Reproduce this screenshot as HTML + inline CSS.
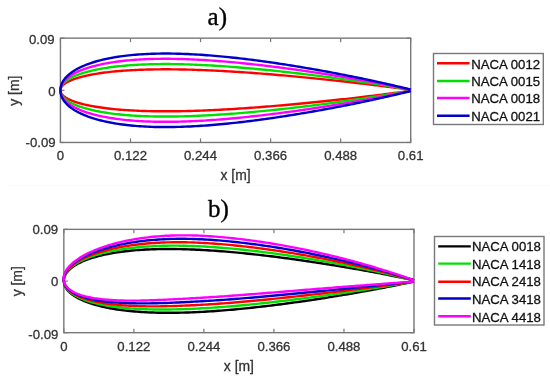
<!DOCTYPE html>
<html><head><meta charset="utf-8"><style>
html,body{margin:0;padding:0;background:#fff;}
body{width:550px;height:380px;overflow:hidden;}
svg{display:block;}
.tk{font-family:"Liberation Sans",Arial,sans-serif;font-size:13.2px;fill:#333;stroke:#333;stroke-width:0.3px;}
.bx{stroke:#787878;stroke-width:1.4px;}
.tkl{stroke:#787878;stroke-width:1.2px;}
.lg{font-family:"Liberation Sans",Arial,sans-serif;font-size:13.2px;fill:#111;stroke:#111;stroke-width:0.3px;}
.al{font-family:"Liberation Sans",Arial,sans-serif;font-size:13.9px;fill:#333;stroke:#333;stroke-width:0.3px;}
.tt{font-family:"Liberation Serif","Times New Roman",serif;font-size:25px;fill:#000;stroke:#000;stroke-width:0.35px;}
</style></head><body>
<svg width="550" height="380" viewBox="0 0 550 380">
<line x1="8" y1="185.5" x2="550" y2="185.5" stroke="#f9f9f9" stroke-width="1"/>
<rect x="60.43" y="38.15" width="350.27" height="104.32" fill="none" class="bx"/>
<line x1="60.43" y1="142.47" x2="60.43" y2="138.47" class="tkl"/>
<line x1="60.43" y1="38.15" x2="60.43" y2="42.15" class="tkl"/>
<line x1="130.48" y1="142.47" x2="130.48" y2="138.47" class="tkl"/>
<line x1="130.48" y1="38.15" x2="130.48" y2="42.15" class="tkl"/>
<line x1="200.54" y1="142.47" x2="200.54" y2="138.47" class="tkl"/>
<line x1="200.54" y1="38.15" x2="200.54" y2="42.15" class="tkl"/>
<line x1="270.59" y1="142.47" x2="270.59" y2="138.47" class="tkl"/>
<line x1="270.59" y1="38.15" x2="270.59" y2="42.15" class="tkl"/>
<line x1="340.65" y1="142.47" x2="340.65" y2="138.47" class="tkl"/>
<line x1="340.65" y1="38.15" x2="340.65" y2="42.15" class="tkl"/>
<line x1="410.7" y1="142.47" x2="410.7" y2="138.47" class="tkl"/>
<line x1="410.7" y1="38.15" x2="410.7" y2="42.15" class="tkl"/>
<line x1="60.43" y1="38.15" x2="64.43" y2="38.15" class="tkl"/>
<line x1="410.7" y1="38.15" x2="406.7" y2="38.15" class="tkl"/>
<line x1="60.43" y1="90.31" x2="64.43" y2="90.31" class="tkl"/>
<line x1="410.7" y1="90.31" x2="406.7" y2="90.31" class="tkl"/>
<line x1="60.43" y1="142.47" x2="64.43" y2="142.47" class="tkl"/>
<line x1="410.7" y1="142.47" x2="406.7" y2="142.47" class="tkl"/>
<text x="60.43" y="160.3" text-anchor="middle" class="tk">0</text>
<text x="130.48" y="160.3" text-anchor="middle" class="tk">0.122</text>
<text x="200.54" y="160.3" text-anchor="middle" class="tk">0.244</text>
<text x="270.59" y="160.3" text-anchor="middle" class="tk">0.366</text>
<text x="340.65" y="160.3" text-anchor="middle" class="tk">0.488</text>
<text x="410.7" y="160.3" text-anchor="middle" class="tk">0.61</text>
<text x="54.6" y="44.2" text-anchor="end" class="tk">0.09</text>
<text x="55.6" y="95.6" text-anchor="end" class="tk">0</text>
<text x="55.6" y="147" text-anchor="end" class="tk">-0.09</text>
<text x="235.56" y="180" text-anchor="middle" class="al">x [m]</text>
<text transform="translate(18.6,90.65) rotate(-90)" text-anchor="middle" class="al">y [m]</text>
<text x="207.6" y="25" class="tt">a)</text>
<rect x="63.84" y="229.36" width="350.16" height="103.32" fill="none" class="bx"/>
<line x1="63.84" y1="332.68" x2="63.84" y2="328.68" class="tkl"/>
<line x1="63.84" y1="229.36" x2="63.84" y2="233.36" class="tkl"/>
<line x1="133.87" y1="332.68" x2="133.87" y2="328.68" class="tkl"/>
<line x1="133.87" y1="229.36" x2="133.87" y2="233.36" class="tkl"/>
<line x1="203.9" y1="332.68" x2="203.9" y2="328.68" class="tkl"/>
<line x1="203.9" y1="229.36" x2="203.9" y2="233.36" class="tkl"/>
<line x1="273.94" y1="332.68" x2="273.94" y2="328.68" class="tkl"/>
<line x1="273.94" y1="229.36" x2="273.94" y2="233.36" class="tkl"/>
<line x1="343.97" y1="332.68" x2="343.97" y2="328.68" class="tkl"/>
<line x1="343.97" y1="229.36" x2="343.97" y2="233.36" class="tkl"/>
<line x1="414" y1="332.68" x2="414" y2="328.68" class="tkl"/>
<line x1="414" y1="229.36" x2="414" y2="233.36" class="tkl"/>
<line x1="63.84" y1="229.36" x2="67.84" y2="229.36" class="tkl"/>
<line x1="414" y1="229.36" x2="410" y2="229.36" class="tkl"/>
<line x1="63.84" y1="281.02" x2="67.84" y2="281.02" class="tkl"/>
<line x1="414" y1="281.02" x2="410" y2="281.02" class="tkl"/>
<line x1="63.84" y1="332.68" x2="67.84" y2="332.68" class="tkl"/>
<line x1="414" y1="332.68" x2="410" y2="332.68" class="tkl"/>
<text x="63.84" y="350.6" text-anchor="middle" class="tk">0</text>
<text x="133.87" y="350.6" text-anchor="middle" class="tk">0.122</text>
<text x="203.9" y="350.6" text-anchor="middle" class="tk">0.244</text>
<text x="273.94" y="350.6" text-anchor="middle" class="tk">0.366</text>
<text x="343.97" y="350.6" text-anchor="middle" class="tk">0.488</text>
<text x="414" y="350.6" text-anchor="middle" class="tk">0.61</text>
<text x="58.2" y="234.4" text-anchor="end" class="tk">0.09</text>
<text x="58.4" y="286.4" text-anchor="end" class="tk">0</text>
<text x="58.4" y="338.7" text-anchor="end" class="tk">-0.09</text>
<text x="238.92" y="370.8" text-anchor="middle" class="al">x [m]</text>
<text transform="translate(22.2,281.25) rotate(-90)" text-anchor="middle" class="al">y [m]</text>
<text x="207.9" y="216.8" class="tt">b)</text>
<g fill="none" stroke-width="2.4" stroke-linejoin="round">
<path d="M410.7,89.87 L410.68,89.87 L410.61,89.86 L410.5,89.84 L410.35,89.82 L410.15,89.79 L409.91,89.76 L409.63,89.72 L409.31,89.67 L408.94,89.62 L408.52,89.56 L408.07,89.5 L407.57,89.43 L407.02,89.36 L406.44,89.28 L405.81,89.19 L405.14,89.1 L404.43,89 L403.68,88.9 L402.88,88.79 L402.04,88.67 L401.16,88.55 L400.24,88.43 L399.28,88.3 L398.28,88.16 L397.24,88.03 L396.15,87.88 L395.03,87.73 L393.87,87.58 L392.66,87.42 L391.42,87.26 L390.14,87.09 L388.82,86.92 L387.47,86.74 L386.07,86.56 L384.64,86.38 L383.17,86.19 L381.66,86 L380.12,85.8 L378.54,85.6 L376.93,85.4 L375.28,85.19 L373.59,84.99 L371.87,84.77 L370.12,84.56 L368.33,84.34 L366.51,84.12 L364.66,83.9 L362.78,83.67 L360.86,83.44 L358.91,83.21 L356.94,82.98 L354.93,82.75 L352.89,82.51 L350.82,82.28 L348.73,82.04 L346.6,81.8 L344.45,81.55 L342.27,81.31 L340.07,81.07 L337.83,80.82 L335.58,80.57 L333.3,80.33 L330.99,80.08 L328.66,79.83 L326.31,79.58 L323.93,79.33 L321.53,79.08 L319.11,78.83 L316.67,78.59 L314.21,78.34 L311.73,78.09 L309.23,77.84 L306.71,77.59 L304.18,77.35 L301.63,77.1 L299.06,76.86 L296.47,76.61 L293.87,76.37 L291.26,76.13 L288.63,75.89 L285.99,75.66 L283.34,75.42 L280.67,75.19 L277.99,74.96 L275.31,74.73 L272.61,74.5 L269.9,74.28 L267.19,74.06 L264.46,73.84 L261.73,73.63 L259,73.42 L256.25,73.21 L253.5,73.01 L250.75,72.81 L248,72.61 L245.24,72.42 L242.48,72.23 L239.71,72.05 L236.95,71.87 L234.18,71.69 L231.42,71.53 L228.65,71.36 L225.89,71.2 L223.13,71.05 L220.38,70.9 L217.63,70.76 L214.88,70.62 L212.13,70.49 L209.4,70.36 L206.67,70.24 L203.94,70.13 L201.23,70.03 L198.52,69.93 L195.82,69.83 L193.14,69.75 L190.46,69.67 L187.79,69.6 L185.14,69.54 L182.5,69.48 L179.87,69.43 L177.26,69.39 L174.66,69.36 L172.07,69.33 L169.5,69.31 L166.95,69.31 L164.42,69.31 L161.9,69.31 L159.4,69.33 L156.92,69.35 L154.46,69.39 L152.02,69.43 L149.6,69.48 L147.2,69.54 L144.82,69.6 L142.47,69.68 L140.14,69.77 L137.83,69.86 L135.55,69.96 L133.3,70.08 L131.06,70.2 L128.86,70.33 L126.68,70.46 L124.53,70.61 L122.4,70.77 L120.31,70.93 L118.24,71.11 L116.2,71.29 L114.19,71.48 L112.22,71.68 L110.27,71.89 L108.35,72.11 L106.47,72.33 L104.62,72.56 L102.8,72.81 L101.01,73.06 L99.26,73.31 L97.54,73.58 L95.85,73.85 L94.2,74.14 L92.59,74.43 L91.01,74.72 L89.47,75.03 L87.96,75.34 L86.49,75.66 L85.06,75.98 L83.66,76.32 L82.31,76.65 L80.99,77 L79.71,77.35 L78.47,77.71 L77.26,78.08 L76.1,78.45 L74.98,78.83 L73.89,79.21 L72.85,79.6 L71.85,79.99 L70.89,80.39 L69.97,80.8 L69.09,81.21 L68.25,81.62 L67.45,82.04 L66.7,82.47 L65.99,82.89 L65.32,83.33 L64.69,83.77 L64.11,84.21 L63.56,84.66 L63.06,85.11 L62.61,85.56 L62.19,86.02 L61.82,86.48 L61.5,86.95 L61.22,87.42 L60.98,87.89 L60.78,88.37 L60.63,88.85 L60.52,89.33 L60.45,89.82 L60.43,90.31 L60.45,90.8 L60.52,91.29 L60.63,91.77 L60.78,92.25 L60.98,92.73 L61.22,93.2 L61.5,93.67 L61.82,94.14 L62.19,94.6 L62.61,95.06 L63.06,95.51 L63.56,95.96 L64.11,96.41 L64.69,96.85 L65.32,97.29 L65.99,97.73 L66.7,98.15 L67.45,98.58 L68.25,99 L69.09,99.41 L69.97,99.82 L70.89,100.23 L71.85,100.63 L72.85,101.02 L73.89,101.41 L74.98,101.79 L76.1,102.17 L77.26,102.54 L78.47,102.91 L79.71,103.27 L80.99,103.62 L82.31,103.97 L83.66,104.3 L85.06,104.64 L86.49,104.96 L87.96,105.28 L89.47,105.59 L91.01,105.9 L92.59,106.19 L94.2,106.48 L95.85,106.77 L97.54,107.04 L99.26,107.31 L101.01,107.56 L102.8,107.81 L104.62,108.06 L106.47,108.29 L108.35,108.51 L110.27,108.73 L112.22,108.94 L114.19,109.14 L116.2,109.33 L118.24,109.51 L120.31,109.69 L122.4,109.85 L124.53,110.01 L126.68,110.16 L128.86,110.29 L131.06,110.42 L133.3,110.54 L135.55,110.66 L137.83,110.76 L140.14,110.85 L142.47,110.94 L144.82,111.02 L147.2,111.08 L149.6,111.14 L152.02,111.19 L154.46,111.23 L156.92,111.27 L159.4,111.29 L161.9,111.31 L164.42,111.31 L166.95,111.31 L169.5,111.31 L172.07,111.29 L174.66,111.26 L177.26,111.23 L179.87,111.19 L182.5,111.14 L185.14,111.08 L187.79,111.02 L190.46,110.95 L193.14,110.87 L195.82,110.79 L198.52,110.69 L201.23,110.59 L203.94,110.49 L206.67,110.38 L209.4,110.26 L212.13,110.13 L214.88,110 L217.63,109.86 L220.38,109.72 L223.13,109.57 L225.89,109.42 L228.65,109.26 L231.42,109.09 L234.18,108.93 L236.95,108.75 L239.71,108.57 L242.48,108.39 L245.24,108.2 L248,108.01 L250.75,107.81 L253.5,107.61 L256.25,107.41 L259,107.2 L261.73,106.99 L264.46,106.78 L267.19,106.56 L269.9,106.34 L272.61,106.12 L275.31,105.89 L277.99,105.66 L280.67,105.43 L283.34,105.2 L285.99,104.96 L288.63,104.73 L291.26,104.49 L293.87,104.25 L296.47,104.01 L299.06,103.76 L301.63,103.52 L304.18,103.27 L306.71,103.03 L309.23,102.78 L311.73,102.53 L314.21,102.28 L316.67,102.03 L319.11,101.79 L321.53,101.54 L323.93,101.29 L326.31,101.04 L328.66,100.79 L330.99,100.54 L333.3,100.29 L335.58,100.05 L337.83,99.8 L340.07,99.55 L342.27,99.31 L344.45,99.07 L346.6,98.82 L348.73,98.58 L350.82,98.34 L352.89,98.11 L354.93,97.87 L356.94,97.64 L358.91,97.41 L360.86,97.18 L362.78,96.95 L364.66,96.72 L366.51,96.5 L368.33,96.28 L370.12,96.06 L371.87,95.85 L373.59,95.63 L375.28,95.43 L376.93,95.22 L378.54,95.02 L380.12,94.82 L381.66,94.62 L383.17,94.43 L384.64,94.24 L386.07,94.06 L387.47,93.88 L388.82,93.7 L390.14,93.53 L391.42,93.36 L392.66,93.2 L393.87,93.04 L395.03,92.89 L396.15,92.74 L397.24,92.59 L398.28,92.46 L399.28,92.32 L400.24,92.19 L401.16,92.07 L402.04,91.95 L402.88,91.83 L403.68,91.72 L404.43,91.62 L405.14,91.52 L405.81,91.43 L406.44,91.34 L407.02,91.26 L407.57,91.19 L408.07,91.12 L408.52,91.06 L408.94,91 L409.31,90.95 L409.63,90.9 L409.91,90.86 L410.15,90.83 L410.35,90.8 L410.5,90.78 L410.61,90.76 L410.68,90.75 L410.7,90.75" stroke="#ff0000"/>
<path d="M410.7,89.76 L410.68,89.75 L410.61,89.74 L410.5,89.72 L410.35,89.7 L410.15,89.66 L409.91,89.62 L409.63,89.57 L409.31,89.51 L408.94,89.45 L408.52,89.38 L408.07,89.3 L407.57,89.21 L407.02,89.12 L406.44,89.02 L405.81,88.91 L405.14,88.79 L404.43,88.67 L403.68,88.54 L402.88,88.41 L402.04,88.26 L401.16,88.12 L400.24,87.96 L399.28,87.8 L398.28,87.63 L397.24,87.45 L396.15,87.27 L395.03,87.09 L393.87,86.89 L392.66,86.7 L391.42,86.49 L390.14,86.28 L388.82,86.07 L387.47,85.85 L386.07,85.62 L384.64,85.39 L383.17,85.16 L381.66,84.92 L380.12,84.67 L378.54,84.42 L376.93,84.17 L375.28,83.91 L373.59,83.65 L371.87,83.39 L370.12,83.12 L368.33,82.85 L366.51,82.57 L364.66,82.29 L362.78,82.01 L360.86,81.73 L358.91,81.44 L356.94,81.15 L354.93,80.86 L352.89,80.56 L350.82,80.27 L348.73,79.97 L346.6,79.67 L344.45,79.36 L342.27,79.06 L340.07,78.75 L337.83,78.45 L335.58,78.14 L333.3,77.83 L330.99,77.52 L328.66,77.21 L326.31,76.9 L323.93,76.59 L321.53,76.28 L319.11,75.96 L316.67,75.65 L314.21,75.34 L311.73,75.03 L309.23,74.72 L306.71,74.41 L304.18,74.11 L301.63,73.8 L299.06,73.49 L296.47,73.19 L293.87,72.89 L291.26,72.59 L288.63,72.29 L285.99,71.99 L283.34,71.7 L280.67,71.41 L277.99,71.12 L275.31,70.84 L272.61,70.55 L269.9,70.27 L267.19,70 L264.46,69.73 L261.73,69.46 L259,69.2 L256.25,68.94 L253.5,68.68 L250.75,68.43 L248,68.19 L245.24,67.95 L242.48,67.71 L239.71,67.48 L236.95,67.26 L234.18,67.04 L231.42,66.83 L228.65,66.62 L225.89,66.42 L223.13,66.23 L220.38,66.05 L217.63,65.87 L214.88,65.7 L212.13,65.53 L209.4,65.38 L206.67,65.23 L203.94,65.09 L201.23,64.95 L198.52,64.83 L195.82,64.72 L193.14,64.61 L190.46,64.51 L187.79,64.42 L185.14,64.34 L182.5,64.27 L179.87,64.21 L177.26,64.16 L174.66,64.12 L172.07,64.09 L169.5,64.07 L166.95,64.05 L164.42,64.05 L161.9,64.06 L159.4,64.08 L156.92,64.11 L154.46,64.15 L152.02,64.21 L149.6,64.27 L147.2,64.34 L144.82,64.43 L142.47,64.52 L140.14,64.63 L137.83,64.75 L135.55,64.88 L133.3,65.02 L131.06,65.17 L128.86,65.33 L126.68,65.5 L124.53,65.69 L122.4,65.88 L120.31,66.09 L118.24,66.31 L116.2,66.53 L114.19,66.77 L112.22,67.02 L110.27,67.28 L108.35,67.55 L106.47,67.84 L104.62,68.13 L102.8,68.43 L101.01,68.74 L99.26,69.07 L97.54,69.4 L95.85,69.74 L94.2,70.09 L92.59,70.45 L91.01,70.83 L89.47,71.21 L87.96,71.6 L86.49,71.99 L85.06,72.4 L83.66,72.82 L82.31,73.24 L80.99,73.67 L79.71,74.11 L78.47,74.56 L77.26,75.02 L76.1,75.48 L74.98,75.96 L73.89,76.43 L72.85,76.92 L71.85,77.41 L70.89,77.91 L69.97,78.42 L69.09,78.93 L68.25,79.45 L67.45,79.97 L66.7,80.5 L65.99,81.04 L65.32,81.58 L64.69,82.13 L64.11,82.68 L63.56,83.24 L63.06,83.81 L62.61,84.37 L62.19,84.95 L61.82,85.53 L61.5,86.11 L61.22,86.69 L60.98,87.29 L60.78,87.88 L60.63,88.48 L60.52,89.09 L60.45,89.7 L60.43,90.31 L60.45,90.92 L60.52,91.53 L60.63,92.14 L60.78,92.74 L60.98,93.33 L61.22,93.93 L61.5,94.51 L61.82,95.09 L62.19,95.67 L62.61,96.25 L63.06,96.81 L63.56,97.38 L64.11,97.94 L64.69,98.49 L65.32,99.04 L65.99,99.58 L66.7,100.12 L67.45,100.65 L68.25,101.17 L69.09,101.69 L69.97,102.2 L70.89,102.71 L71.85,103.21 L72.85,103.7 L73.89,104.19 L74.98,104.66 L76.1,105.14 L77.26,105.6 L78.47,106.06 L79.71,106.51 L80.99,106.95 L82.31,107.38 L83.66,107.8 L85.06,108.22 L86.49,108.63 L87.96,109.02 L89.47,109.41 L91.01,109.79 L92.59,110.17 L94.2,110.53 L95.85,110.88 L97.54,111.22 L99.26,111.55 L101.01,111.88 L102.8,112.19 L104.62,112.49 L106.47,112.78 L108.35,113.07 L110.27,113.34 L112.22,113.6 L114.19,113.85 L116.2,114.09 L118.24,114.31 L120.31,114.53 L122.4,114.74 L124.53,114.93 L126.68,115.12 L128.86,115.29 L131.06,115.45 L133.3,115.6 L135.55,115.74 L137.83,115.87 L140.14,115.99 L142.47,116.1 L144.82,116.19 L147.2,116.28 L149.6,116.35 L152.02,116.41 L154.46,116.47 L156.92,116.51 L159.4,116.54 L161.9,116.56 L164.42,116.57 L166.95,116.57 L169.5,116.55 L172.07,116.53 L174.66,116.5 L177.26,116.46 L179.87,116.41 L182.5,116.35 L185.14,116.28 L187.79,116.2 L190.46,116.11 L193.14,116.01 L195.82,115.9 L198.52,115.79 L201.23,115.67 L203.94,115.53 L206.67,115.39 L209.4,115.24 L212.13,115.09 L214.88,114.92 L217.63,114.75 L220.38,114.57 L223.13,114.39 L225.89,114.2 L228.65,114 L231.42,113.79 L234.18,113.58 L236.95,113.36 L239.71,113.14 L242.48,112.91 L245.24,112.67 L248,112.43 L250.75,112.19 L253.5,111.94 L256.25,111.68 L259,111.42 L261.73,111.16 L264.46,110.89 L267.19,110.62 L269.9,110.35 L272.61,110.07 L275.31,109.78 L277.99,109.5 L280.67,109.21 L283.34,108.92 L285.99,108.63 L288.63,108.33 L291.26,108.03 L293.87,107.73 L296.47,107.43 L299.06,107.13 L301.63,106.82 L304.18,106.51 L306.71,106.21 L309.23,105.9 L311.73,105.59 L314.21,105.28 L316.67,104.97 L319.11,104.66 L321.53,104.34 L323.93,104.03 L326.31,103.72 L328.66,103.41 L330.99,103.1 L333.3,102.79 L335.58,102.48 L337.83,102.17 L340.07,101.87 L342.27,101.56 L344.45,101.26 L346.6,100.95 L348.73,100.65 L350.82,100.35 L352.89,100.06 L354.93,99.76 L356.94,99.47 L358.91,99.18 L360.86,98.89 L362.78,98.61 L364.66,98.33 L366.51,98.05 L368.33,97.77 L370.12,97.5 L371.87,97.23 L373.59,96.97 L375.28,96.71 L376.93,96.45 L378.54,96.2 L380.12,95.95 L381.66,95.7 L383.17,95.46 L384.64,95.23 L386.07,95 L387.47,94.77 L388.82,94.55 L390.14,94.34 L391.42,94.13 L392.66,93.92 L393.87,93.73 L395.03,93.53 L396.15,93.35 L397.24,93.17 L398.28,92.99 L399.28,92.82 L400.24,92.66 L401.16,92.5 L402.04,92.36 L402.88,92.21 L403.68,92.08 L404.43,91.95 L405.14,91.83 L405.81,91.71 L406.44,91.6 L407.02,91.5 L407.57,91.41 L408.07,91.32 L408.52,91.24 L408.94,91.17 L409.31,91.11 L409.63,91.05 L409.91,91 L410.15,90.96 L410.35,90.92 L410.5,90.9 L410.61,90.88 L410.68,90.87 L410.7,90.86" stroke="#00e000"/>
<path d="M410.7,89.65 L410.68,89.64 L410.61,89.63 L410.5,89.61 L410.35,89.58 L410.15,89.53 L409.91,89.48 L409.63,89.42 L409.31,89.36 L408.94,89.28 L408.52,89.19 L408.07,89.1 L407.57,88.99 L407.02,88.88 L406.44,88.76 L405.81,88.63 L405.14,88.49 L404.43,88.34 L403.68,88.19 L402.88,88.03 L402.04,87.86 L401.16,87.68 L400.24,87.49 L399.28,87.29 L398.28,87.09 L397.24,86.88 L396.15,86.67 L395.03,86.44 L393.87,86.21 L392.66,85.97 L391.42,85.73 L390.14,85.48 L388.82,85.22 L387.47,84.95 L386.07,84.68 L384.64,84.41 L383.17,84.13 L381.66,83.84 L380.12,83.55 L378.54,83.25 L376.93,82.94 L375.28,82.64 L373.59,82.32 L371.87,82 L370.12,81.68 L368.33,81.36 L366.51,81.03 L364.66,80.69 L362.78,80.35 L360.86,80.01 L358.91,79.67 L356.94,79.32 L354.93,78.97 L352.89,78.61 L350.82,78.26 L348.73,77.9 L346.6,77.54 L344.45,77.17 L342.27,76.81 L340.07,76.44 L337.83,76.07 L335.58,75.7 L333.3,75.33 L330.99,74.96 L328.66,74.59 L326.31,74.22 L323.93,73.84 L321.53,73.47 L319.11,73.1 L316.67,72.72 L314.21,72.35 L311.73,71.98 L309.23,71.61 L306.71,71.23 L304.18,70.87 L301.63,70.5 L299.06,70.13 L296.47,69.77 L293.87,69.4 L291.26,69.04 L288.63,68.69 L285.99,68.33 L283.34,67.98 L280.67,67.63 L277.99,67.28 L275.31,66.94 L272.61,66.6 L269.9,66.27 L267.19,65.94 L264.46,65.61 L261.73,65.29 L259,64.97 L256.25,64.66 L253.5,64.36 L250.75,64.06 L248,63.76 L245.24,63.47 L242.48,63.19 L239.71,62.92 L236.95,62.65 L234.18,62.39 L231.42,62.13 L228.65,61.89 L225.89,61.65 L223.13,61.42 L220.38,61.19 L217.63,60.98 L214.88,60.77 L212.13,60.58 L209.4,60.39 L206.67,60.21 L203.94,60.04 L201.23,59.88 L198.52,59.73 L195.82,59.6 L193.14,59.47 L190.46,59.35 L187.79,59.24 L185.14,59.15 L182.5,59.06 L179.87,58.99 L177.26,58.93 L174.66,58.88 L172.07,58.84 L169.5,58.82 L166.95,58.8 L164.42,58.8 L161.9,58.81 L159.4,58.84 L156.92,58.87 L154.46,58.92 L152.02,58.99 L149.6,59.06 L147.2,59.15 L144.82,59.25 L142.47,59.37 L140.14,59.49 L137.83,59.64 L135.55,59.79 L133.3,59.96 L131.06,60.14 L128.86,60.33 L126.68,60.54 L124.53,60.76 L122.4,61 L120.31,61.24 L118.24,61.5 L116.2,61.78 L114.19,62.07 L112.22,62.36 L110.27,62.68 L108.35,63 L106.47,63.34 L104.62,63.69 L102.8,64.05 L101.01,64.43 L99.26,64.82 L97.54,65.22 L95.85,65.63 L94.2,66.05 L92.59,66.48 L91.01,66.93 L89.47,67.38 L87.96,67.85 L86.49,68.33 L85.06,68.82 L83.66,69.32 L82.31,69.83 L80.99,70.35 L79.71,70.88 L78.47,71.41 L77.26,71.96 L76.1,72.52 L74.98,73.08 L73.89,73.66 L72.85,74.24 L71.85,74.83 L70.89,75.43 L69.97,76.04 L69.09,76.65 L68.25,77.28 L67.45,77.91 L66.7,78.54 L65.99,79.19 L65.32,79.84 L64.69,80.5 L64.11,81.16 L63.56,81.83 L63.06,82.5 L62.61,83.19 L62.19,83.87 L61.82,84.57 L61.5,85.27 L61.22,85.97 L60.98,86.68 L60.78,87.4 L60.63,88.12 L60.52,88.84 L60.45,89.57 L60.43,90.31 L60.45,91.05 L60.52,91.78 L60.63,92.5 L60.78,93.22 L60.98,93.94 L61.22,94.65 L61.5,95.35 L61.82,96.05 L62.19,96.75 L62.61,97.43 L63.06,98.12 L63.56,98.79 L64.11,99.46 L64.69,100.12 L65.32,100.78 L65.99,101.43 L66.7,102.08 L67.45,102.71 L68.25,103.34 L69.09,103.97 L69.97,104.58 L70.89,105.19 L71.85,105.79 L72.85,106.38 L73.89,106.96 L74.98,107.54 L76.1,108.1 L77.26,108.66 L78.47,109.21 L79.71,109.74 L80.99,110.27 L82.31,110.79 L83.66,111.3 L85.06,111.8 L86.49,112.29 L87.96,112.77 L89.47,113.24 L91.01,113.69 L92.59,114.14 L94.2,114.57 L95.85,114.99 L97.54,115.4 L99.26,115.8 L101.01,116.19 L102.8,116.57 L104.62,116.93 L106.47,117.28 L108.35,117.62 L110.27,117.94 L112.22,118.26 L114.19,118.55 L116.2,118.84 L118.24,119.12 L120.31,119.38 L122.4,119.62 L124.53,119.86 L126.68,120.08 L128.86,120.29 L131.06,120.48 L133.3,120.66 L135.55,120.83 L137.83,120.98 L140.14,121.13 L142.47,121.25 L144.82,121.37 L147.2,121.47 L149.6,121.56 L152.02,121.63 L154.46,121.7 L156.92,121.75 L159.4,121.78 L161.9,121.81 L164.42,121.82 L166.95,121.82 L169.5,121.8 L172.07,121.78 L174.66,121.74 L177.26,121.69 L179.87,121.63 L182.5,121.56 L185.14,121.47 L187.79,121.38 L190.46,121.27 L193.14,121.15 L195.82,121.02 L198.52,120.89 L201.23,120.74 L203.94,120.58 L206.67,120.41 L209.4,120.23 L212.13,120.04 L214.88,119.85 L217.63,119.64 L220.38,119.43 L223.13,119.2 L225.89,118.97 L228.65,118.73 L231.42,118.49 L234.18,118.23 L236.95,117.97 L239.71,117.7 L242.48,117.43 L245.24,117.15 L248,116.86 L250.75,116.56 L253.5,116.26 L256.25,115.96 L259,115.65 L261.73,115.33 L264.46,115.01 L267.19,114.68 L269.9,114.35 L272.61,114.02 L275.31,113.68 L277.99,113.34 L280.67,112.99 L283.34,112.64 L285.99,112.29 L288.63,111.93 L291.26,111.58 L293.87,111.22 L296.47,110.85 L299.06,110.49 L301.63,110.12 L304.18,109.75 L306.71,109.39 L309.23,109.01 L311.73,108.64 L314.21,108.27 L316.67,107.9 L319.11,107.52 L321.53,107.15 L323.93,106.78 L326.31,106.4 L328.66,106.03 L330.99,105.66 L333.3,105.29 L335.58,104.92 L337.83,104.55 L340.07,104.18 L342.27,103.81 L344.45,103.45 L346.6,103.08 L348.73,102.72 L350.82,102.36 L352.89,102.01 L354.93,101.65 L356.94,101.3 L358.91,100.95 L360.86,100.61 L362.78,100.27 L364.66,99.93 L366.51,99.59 L368.33,99.26 L370.12,98.94 L371.87,98.62 L373.59,98.3 L375.28,97.98 L376.93,97.68 L378.54,97.37 L380.12,97.07 L381.66,96.78 L383.17,96.49 L384.64,96.21 L386.07,95.94 L387.47,95.67 L388.82,95.4 L390.14,95.14 L391.42,94.89 L392.66,94.65 L393.87,94.41 L395.03,94.18 L396.15,93.95 L397.24,93.74 L398.28,93.53 L399.28,93.33 L400.24,93.13 L401.16,92.94 L402.04,92.76 L402.88,92.59 L403.68,92.43 L404.43,92.28 L405.14,92.13 L405.81,91.99 L406.44,91.86 L407.02,91.74 L407.57,91.63 L408.07,91.52 L408.52,91.43 L408.94,91.34 L409.31,91.26 L409.63,91.2 L409.91,91.14 L410.15,91.09 L410.35,91.04 L410.5,91.01 L410.61,90.99 L410.68,90.98 L410.7,90.97" stroke="#ff00ff"/>
<path d="M410.7,89.54 L410.68,89.53 L410.61,89.52 L410.5,89.49 L410.35,89.45 L410.15,89.4 L409.91,89.35 L409.63,89.28 L409.31,89.2 L408.94,89.11 L408.52,89.01 L408.07,88.89 L407.57,88.77 L407.02,88.64 L406.44,88.5 L405.81,88.35 L405.14,88.19 L404.43,88.02 L403.68,87.84 L402.88,87.65 L402.04,87.45 L401.16,87.24 L400.24,87.02 L399.28,86.79 L398.28,86.56 L397.24,86.31 L396.15,86.06 L395.03,85.8 L393.87,85.53 L392.66,85.25 L391.42,84.96 L390.14,84.67 L388.82,84.37 L387.47,84.06 L386.07,83.75 L384.64,83.42 L383.17,83.1 L381.66,82.76 L380.12,82.42 L378.54,82.07 L376.93,81.72 L375.28,81.36 L373.59,80.99 L371.87,80.62 L370.12,80.24 L368.33,79.86 L366.51,79.48 L364.66,79.09 L362.78,78.69 L360.86,78.3 L358.91,77.89 L356.94,77.49 L354.93,77.08 L352.89,76.67 L350.82,76.25 L348.73,75.83 L346.6,75.41 L344.45,74.99 L342.27,74.56 L340.07,74.13 L337.83,73.7 L335.58,73.27 L333.3,72.84 L330.99,72.4 L328.66,71.97 L326.31,71.53 L323.93,71.1 L321.53,70.66 L319.11,70.23 L316.67,69.79 L314.21,69.36 L311.73,68.92 L309.23,68.49 L306.71,68.06 L304.18,67.62 L301.63,67.2 L299.06,66.77 L296.47,66.34 L293.87,65.92 L291.26,65.5 L288.63,65.08 L285.99,64.67 L283.34,64.26 L280.67,63.85 L277.99,63.45 L275.31,63.05 L272.61,62.65 L269.9,62.26 L267.19,61.88 L264.46,61.5 L261.73,61.12 L259,60.75 L256.25,60.39 L253.5,60.03 L250.75,59.68 L248,59.34 L245.24,59 L242.48,58.67 L239.71,58.35 L236.95,58.04 L234.18,57.73 L231.42,57.44 L228.65,57.15 L225.89,56.87 L223.13,56.6 L220.38,56.34 L217.63,56.09 L214.88,55.85 L212.13,55.62 L209.4,55.4 L206.67,55.19 L203.94,55 L201.23,54.81 L198.52,54.64 L195.82,54.48 L193.14,54.33 L190.46,54.19 L187.79,54.07 L185.14,53.96 L182.5,53.86 L179.87,53.77 L177.26,53.7 L174.66,53.64 L172.07,53.6 L169.5,53.57 L166.95,53.55 L164.42,53.55 L161.9,53.56 L159.4,53.59 L156.92,53.64 L154.46,53.69 L152.02,53.77 L149.6,53.85 L147.2,53.96 L144.82,54.08 L142.47,54.21 L140.14,54.36 L137.83,54.52 L135.55,54.7 L133.3,54.9 L131.06,55.11 L128.86,55.34 L126.68,55.58 L124.53,55.84 L122.4,56.11 L120.31,56.4 L118.24,56.7 L116.2,57.02 L114.19,57.36 L112.22,57.71 L110.27,58.07 L108.35,58.45 L106.47,58.85 L104.62,59.25 L102.8,59.68 L101.01,60.12 L99.26,60.57 L97.54,61.03 L95.85,61.51 L94.2,62.01 L92.59,62.51 L91.01,63.03 L89.47,63.56 L87.96,64.11 L86.49,64.67 L85.06,65.24 L83.66,65.82 L82.31,66.41 L80.99,67.02 L79.71,67.64 L78.47,68.26 L77.26,68.9 L76.1,69.55 L74.98,70.21 L73.89,70.88 L72.85,71.56 L71.85,72.25 L70.89,72.95 L69.97,73.66 L69.09,74.38 L68.25,75.1 L67.45,75.84 L66.7,76.58 L65.99,77.33 L65.32,78.09 L64.69,78.86 L64.11,79.63 L63.56,80.41 L63.06,81.2 L62.61,82 L62.19,82.8 L61.82,83.61 L61.5,84.43 L61.22,85.25 L60.98,86.08 L60.78,86.91 L60.63,87.75 L60.52,88.6 L60.45,89.45 L60.43,90.31 L60.45,91.17 L60.52,92.02 L60.63,92.87 L60.78,93.71 L60.98,94.54 L61.22,95.37 L61.5,96.19 L61.82,97.01 L62.19,97.82 L62.61,98.62 L63.06,99.42 L63.56,100.21 L64.11,100.99 L64.69,101.76 L65.32,102.53 L65.99,103.29 L66.7,104.04 L67.45,104.78 L68.25,105.52 L69.09,106.24 L69.97,106.96 L70.89,107.67 L71.85,108.37 L72.85,109.06 L73.89,109.74 L74.98,110.41 L76.1,111.07 L77.26,111.72 L78.47,112.36 L79.71,112.98 L80.99,113.6 L82.31,114.21 L83.66,114.8 L85.06,115.38 L86.49,115.95 L87.96,116.51 L89.47,117.06 L91.01,117.59 L92.59,118.11 L94.2,118.61 L95.85,119.11 L97.54,119.59 L99.26,120.05 L101.01,120.5 L102.8,120.94 L104.62,121.37 L106.47,121.77 L108.35,122.17 L110.27,122.55 L112.22,122.91 L114.19,123.26 L116.2,123.6 L118.24,123.92 L120.31,124.22 L122.4,124.51 L124.53,124.78 L126.68,125.04 L128.86,125.28 L131.06,125.51 L133.3,125.72 L135.55,125.92 L137.83,126.1 L140.14,126.26 L142.47,126.41 L144.82,126.54 L147.2,126.66 L149.6,126.77 L152.02,126.85 L154.46,126.93 L156.92,126.98 L159.4,127.03 L161.9,127.06 L164.42,127.07 L166.95,127.07 L169.5,127.05 L172.07,127.02 L174.66,126.98 L177.26,126.92 L179.87,126.85 L182.5,126.76 L185.14,126.66 L187.79,126.55 L190.46,126.43 L193.14,126.29 L195.82,126.14 L198.52,125.98 L201.23,125.81 L203.94,125.62 L206.67,125.43 L209.4,125.22 L212.13,125 L214.88,124.77 L217.63,124.53 L220.38,124.28 L223.13,124.02 L225.89,123.75 L228.65,123.47 L231.42,123.18 L234.18,122.89 L236.95,122.58 L239.71,122.27 L242.48,121.95 L245.24,121.62 L248,121.28 L250.75,120.94 L253.5,120.59 L256.25,120.23 L259,119.87 L261.73,119.5 L264.46,119.12 L267.19,118.74 L269.9,118.36 L272.61,117.97 L275.31,117.57 L277.99,117.17 L280.67,116.77 L283.34,116.36 L285.99,115.95 L288.63,115.54 L291.26,115.12 L293.87,114.7 L296.47,114.28 L299.06,113.85 L301.63,113.42 L304.18,113 L306.71,112.56 L309.23,112.13 L311.73,111.7 L314.21,111.26 L316.67,110.83 L319.11,110.39 L321.53,109.96 L323.93,109.52 L326.31,109.09 L328.66,108.65 L330.99,108.22 L333.3,107.78 L335.58,107.35 L337.83,106.92 L340.07,106.49 L342.27,106.06 L344.45,105.63 L346.6,105.21 L348.73,104.79 L350.82,104.37 L352.89,103.95 L354.93,103.54 L356.94,103.13 L358.91,102.73 L360.86,102.32 L362.78,101.93 L364.66,101.53 L366.51,101.14 L368.33,100.76 L370.12,100.38 L371.87,100 L373.59,99.63 L375.28,99.26 L376.93,98.9 L378.54,98.55 L380.12,98.2 L381.66,97.86 L383.17,97.52 L384.64,97.2 L386.07,96.87 L387.47,96.56 L388.82,96.25 L390.14,95.95 L391.42,95.66 L392.66,95.37 L393.87,95.09 L395.03,94.82 L396.15,94.56 L397.24,94.31 L398.28,94.06 L399.28,93.83 L400.24,93.6 L401.16,93.38 L402.04,93.17 L402.88,92.97 L403.68,92.78 L404.43,92.6 L405.14,92.43 L405.81,92.27 L406.44,92.12 L407.02,91.98 L407.57,91.85 L408.07,91.73 L408.52,91.61 L408.94,91.51 L409.31,91.42 L409.63,91.34 L409.91,91.27 L410.15,91.22 L410.35,91.17 L410.5,91.13 L410.61,91.1 L410.68,91.09 L410.7,91.08" stroke="#0000c8"/>
<path d="M414,280.23 L413.98,280.23 L413.91,280.21 L413.8,280.19 L413.65,280.16 L413.45,280.11 L413.22,280.06 L412.93,280 L412.61,279.93 L412.24,279.86 L411.82,279.77 L411.37,279.67 L410.87,279.57 L410.33,279.45 L409.74,279.33 L409.11,279.2 L408.44,279.06 L407.73,278.91 L406.98,278.75 L406.18,278.59 L405.35,278.41 L404.47,278.23 L403.55,278.04 L402.58,277.85 L401.58,277.64 L400.54,277.43 L399.46,277.21 L398.33,276.98 L397.17,276.75 L395.97,276.51 L394.73,276.26 L393.45,276.01 L392.13,275.75 L390.77,275.48 L389.38,275.2 L387.95,274.92 L386.48,274.64 L384.97,274.35 L383.43,274.05 L381.85,273.75 L380.24,273.44 L378.59,273.13 L376.9,272.81 L375.19,272.49 L373.43,272.17 L371.65,271.84 L369.83,271.5 L367.98,271.16 L366.09,270.82 L364.18,270.47 L362.23,270.13 L360.25,269.77 L358.25,269.42 L356.21,269.06 L354.14,268.7 L352.05,268.33 L349.92,267.97 L347.77,267.6 L345.59,267.23 L343.39,266.86 L341.16,266.49 L338.9,266.11 L336.62,265.74 L334.31,265.36 L331.98,264.98 L329.63,264.61 L327.26,264.23 L324.86,263.85 L322.44,263.47 L320,263.09 L317.54,262.72 L315.06,262.34 L312.56,261.96 L310.05,261.59 L307.51,261.21 L304.96,260.84 L302.39,260.47 L299.81,260.1 L297.21,259.73 L294.6,259.37 L291.97,259.01 L289.33,258.65 L286.68,258.29 L284.01,257.94 L281.34,257.59 L278.65,257.24 L275.95,256.9 L273.25,256.56 L270.53,256.22 L267.81,255.89 L265.08,255.57 L262.34,255.25 L259.6,254.93 L256.85,254.62 L254.1,254.32 L251.35,254.02 L248.59,253.73 L245.83,253.45 L243.07,253.17 L240.3,252.89 L237.54,252.63 L234.77,252.37 L232.01,252.12 L229.25,251.88 L226.49,251.65 L223.74,251.42 L220.99,251.2 L218.24,251 L215.5,250.8 L212.76,250.61 L210.03,250.43 L207.31,250.26 L204.59,250.1 L201.89,249.95 L199.19,249.8 L196.5,249.68 L193.83,249.56 L191.16,249.45 L188.51,249.35 L185.87,249.27 L183.24,249.19 L180.63,249.13 L178.03,249.08 L175.45,249.04 L172.88,249.02 L170.33,249 L167.79,249 L165.28,249.01 L162.78,249.04 L160.3,249.07 L157.84,249.12 L155.4,249.19 L152.98,249.26 L150.58,249.35 L148.21,249.46 L145.86,249.57 L143.53,249.7 L141.22,249.84 L138.94,250 L136.68,250.17 L134.45,250.35 L132.25,250.55 L130.07,250.76 L127.92,250.99 L125.79,251.22 L123.7,251.47 L121.63,251.74 L119.59,252.01 L117.59,252.3 L115.61,252.61 L113.66,252.92 L111.75,253.25 L109.86,253.6 L108.01,253.95 L106.19,254.32 L104.41,254.7 L102.65,255.09 L100.94,255.49 L99.25,255.91 L97.6,256.34 L95.99,256.78 L94.41,257.23 L92.87,257.69 L91.36,258.16 L89.89,258.65 L88.46,259.14 L87.07,259.65 L85.71,260.16 L84.39,260.69 L83.11,261.22 L81.87,261.77 L80.67,262.32 L79.51,262.89 L78.38,263.46 L77.3,264.04 L76.26,264.63 L75.26,265.23 L74.29,265.84 L73.37,266.45 L72.49,267.07 L71.66,267.7 L70.86,268.34 L70.11,268.99 L69.4,269.64 L68.73,270.3 L68.1,270.96 L67.51,271.63 L66.97,272.31 L66.47,273 L66.02,273.69 L65.6,274.38 L65.23,275.09 L64.91,275.79 L64.62,276.51 L64.39,277.23 L64.19,277.95 L64.04,278.68 L63.93,279.42 L63.86,280.16 L63.84,280.9 L63.86,281.64 L63.93,282.38 L64.04,283.12 L64.19,283.85 L64.39,284.57 L64.62,285.29 L64.91,286.01 L65.23,286.71 L65.6,287.42 L66.02,288.11 L66.47,288.8 L66.97,289.49 L67.51,290.17 L68.1,290.84 L68.73,291.5 L69.4,292.16 L70.11,292.81 L70.86,293.46 L71.66,294.1 L72.49,294.73 L73.37,295.35 L74.29,295.96 L75.26,296.57 L76.26,297.17 L77.3,297.76 L78.38,298.34 L79.51,298.91 L80.67,299.48 L81.87,300.03 L83.11,300.58 L84.39,301.11 L85.71,301.64 L87.07,302.15 L88.46,302.66 L89.89,303.15 L91.36,303.64 L92.87,304.11 L94.41,304.57 L95.99,305.02 L97.6,305.46 L99.25,305.89 L100.94,306.31 L102.65,306.71 L104.41,307.1 L106.19,307.48 L108.01,307.85 L109.86,308.2 L111.75,308.55 L113.66,308.88 L115.61,309.19 L117.59,309.5 L119.59,309.79 L121.63,310.06 L123.7,310.33 L125.79,310.58 L127.92,310.81 L130.07,311.04 L132.25,311.25 L134.45,311.45 L136.68,311.63 L138.94,311.8 L141.22,311.96 L143.53,312.1 L145.86,312.23 L148.21,312.34 L150.58,312.45 L152.98,312.54 L155.4,312.61 L157.84,312.68 L160.3,312.73 L162.78,312.76 L165.28,312.79 L167.79,312.8 L170.33,312.8 L172.88,312.78 L175.45,312.76 L178.03,312.72 L180.63,312.67 L183.24,312.61 L185.87,312.53 L188.51,312.45 L191.16,312.35 L193.83,312.24 L196.5,312.12 L199.19,312 L201.89,311.85 L204.59,311.7 L207.31,311.54 L210.03,311.37 L212.76,311.19 L215.5,311 L218.24,310.8 L220.99,310.6 L223.74,310.38 L226.49,310.15 L229.25,309.92 L232.01,309.68 L234.77,309.43 L237.54,309.17 L240.3,308.91 L243.07,308.63 L245.83,308.35 L248.59,308.07 L251.35,307.78 L254.1,307.48 L256.85,307.18 L259.6,306.87 L262.34,306.55 L265.08,306.23 L267.81,305.91 L270.53,305.58 L273.25,305.24 L275.95,304.9 L278.65,304.56 L281.34,304.21 L284.01,303.86 L286.68,303.51 L289.33,303.15 L291.97,302.79 L294.6,302.43 L297.21,302.07 L299.81,301.7 L302.39,301.33 L304.96,300.96 L307.51,300.59 L310.05,300.21 L312.56,299.84 L315.06,299.46 L317.54,299.08 L320,298.71 L322.44,298.33 L324.86,297.95 L327.26,297.57 L329.63,297.19 L331.98,296.82 L334.31,296.44 L336.62,296.06 L338.9,295.69 L341.16,295.31 L343.39,294.94 L345.59,294.57 L347.77,294.2 L349.92,293.83 L352.05,293.47 L354.14,293.1 L356.21,292.74 L358.25,292.38 L360.25,292.03 L362.23,291.67 L364.18,291.33 L366.09,290.98 L367.98,290.64 L369.83,290.3 L371.65,289.96 L373.43,289.63 L375.19,289.31 L376.9,288.99 L378.59,288.67 L380.24,288.36 L381.85,288.05 L383.43,287.75 L384.97,287.45 L386.48,287.16 L387.95,286.88 L389.38,286.6 L390.77,286.32 L392.13,286.05 L393.45,285.79 L394.73,285.54 L395.97,285.29 L397.17,285.05 L398.33,284.82 L399.46,284.59 L400.54,284.37 L401.58,284.16 L402.58,283.95 L403.55,283.76 L404.47,283.57 L405.35,283.39 L406.18,283.21 L406.98,283.05 L407.73,282.89 L408.44,282.74 L409.11,282.6 L409.74,282.47 L410.33,282.35 L410.87,282.23 L411.37,282.13 L411.82,282.03 L412.24,281.94 L412.61,281.87 L412.93,281.8 L413.22,281.74 L413.45,281.69 L413.65,281.64 L413.8,281.61 L413.91,281.59 L413.98,281.57 L414,281.57" stroke="#000000"/>
<path d="M414.02,280.23 L414,280.23 L413.94,280.21 L413.83,280.18 L413.68,280.14 L413.48,280.1 L413.24,280.04 L412.96,279.97 L412.64,279.89 L412.27,279.8 L411.86,279.7 L411.41,279.58 L410.91,279.46 L410.37,279.33 L409.79,279.19 L409.17,279.04 L408.5,278.87 L407.8,278.7 L407.05,278.52 L406.26,278.33 L405.42,278.13 L404.55,277.92 L403.64,277.7 L402.68,277.47 L401.68,277.24 L400.65,276.99 L399.57,276.74 L398.45,276.48 L397.3,276.21 L396.1,275.93 L394.87,275.64 L393.59,275.35 L392.28,275.05 L390.93,274.74 L389.54,274.42 L388.12,274.1 L386.66,273.77 L385.16,273.44 L383.62,273.1 L382.05,272.75 L380.44,272.4 L378.8,272.04 L377.12,271.68 L375.41,271.31 L373.67,270.93 L371.89,270.55 L370.07,270.17 L368.23,269.78 L366.35,269.39 L364.44,269 L362.5,268.6 L360.53,268.2 L358.52,267.79 L356.49,267.38 L354.43,266.97 L352.34,266.56 L350.22,266.14 L348.07,265.72 L345.9,265.3 L343.7,264.88 L341.47,264.46 L339.21,264.04 L336.94,263.61 L334.63,263.19 L332.3,262.76 L329.95,262.34 L327.58,261.91 L325.18,261.48 L322.76,261.06 L320.33,260.64 L317.87,260.21 L315.39,259.79 L312.89,259.37 L310.37,258.95 L307.83,258.53 L305.28,258.12 L302.71,257.71 L300.12,257.3 L297.52,256.89 L294.9,256.49 L292.27,256.09 L289.63,255.69 L286.97,255.3 L284.3,254.91 L281.62,254.53 L278.93,254.15 L276.22,253.77 L273.51,253.4 L270.79,253.04 L268.06,252.68 L265.32,252.33 L262.58,251.98 L259.83,251.64 L257.07,251.31 L254.31,250.98 L251.55,250.66 L248.78,250.35 L246.01,250.04 L243.24,249.75 L240.46,249.46 L237.69,249.18 L234.91,248.91 L232.14,248.64 L229.37,248.39 L226.6,248.14 L223.83,247.91 L221.07,247.68 L218.31,247.47 L215.55,247.26 L212.8,247.07 L210.06,246.89 L207.33,246.71 L204.6,246.55 L201.87,246.4 L199.14,246.27 L196.42,246.14 L193.72,246.03 L191.02,245.93 L188.34,245.85 L185.67,245.78 L183.01,245.73 L180.37,245.69 L177.74,245.66 L175.13,245.65 L172.53,245.65 L169.95,245.66 L167.39,245.7 L164.84,245.74 L162.32,245.8 L159.81,245.88 L157.32,245.97 L154.86,246.07 L152.41,246.19 L149.99,246.33 L147.59,246.48 L145.21,246.64 L142.86,246.82 L140.53,247.02 L138.23,247.23 L135.95,247.45 L133.7,247.69 L131.48,247.94 L129.28,248.21 L127.12,248.5 L124.98,248.79 L122.87,249.1 L120.79,249.43 L118.74,249.77 L116.72,250.12 L114.73,250.49 L112.77,250.87 L110.85,251.26 L108.96,251.66 L107.1,252.08 L105.28,252.51 L103.49,252.96 L101.73,253.41 L100.01,253.88 L98.33,254.36 L96.68,254.85 L95.07,255.35 L93.5,255.87 L91.96,256.39 L90.46,256.93 L89,257.47 L87.58,258.02 L86.19,258.59 L84.85,259.16 L83.54,259.74 L82.27,260.33 L81.05,260.93 L79.86,261.54 L78.72,262.16 L77.61,262.78 L76.55,263.41 L75.53,264.05 L74.54,264.69 L73.61,265.34 L72.71,266 L71.85,266.67 L71.04,267.34 L70.27,268.01 L69.55,268.69 L68.86,269.38 L68.22,270.07 L67.62,270.76 L67.07,271.46 L66.56,272.17 L66.09,272.88 L65.67,273.59 L65.29,274.3 L64.95,275.02 L64.66,275.75 L64.41,276.47 L64.2,277.2 L64.04,277.94 L63.93,278.67 L63.85,279.41 L63.83,280.15 L63.84,280.9 L63.9,281.64 L64,282.38 L64.15,283.11 L64.33,283.83 L64.57,284.54 L64.84,285.25 L65.16,285.95 L65.52,286.64 L65.92,287.32 L66.37,287.99 L66.86,288.66 L67.39,289.32 L67.96,289.97 L68.57,290.61 L69.23,291.25 L69.93,291.87 L70.67,292.49 L71.45,293.1 L72.27,293.7 L73.13,294.29 L74.04,294.87 L74.98,295.44 L75.97,296 L76.99,296.55 L78.05,297.09 L79.15,297.62 L80.3,298.15 L81.47,298.66 L82.69,299.16 L83.95,299.65 L85.24,300.13 L86.57,300.6 L87.94,301.06 L89.35,301.5 L90.79,301.94 L92.26,302.36 L93.78,302.78 L95.32,303.18 L96.91,303.57 L98.52,303.94 L100.17,304.31 L101.86,304.66 L103.58,305 L105.33,305.33 L107.11,305.65 L108.92,305.95 L110.77,306.24 L112.65,306.52 L114.55,306.79 L116.49,307.04 L118.46,307.28 L120.45,307.51 L122.48,307.73 L124.53,307.93 L126.61,308.12 L128.72,308.3 L130.85,308.47 L133.01,308.62 L135.2,308.76 L137.41,308.89 L139.65,309.01 L141.91,309.11 L144.19,309.21 L146.5,309.29 L148.83,309.36 L151.18,309.41 L153.55,309.46 L155.94,309.49 L158.36,309.51 L160.79,309.52 L163.24,309.52 L165.71,309.51 L168.2,309.49 L170.7,309.46 L173.23,309.41 L175.77,309.36 L178.32,309.3 L180.89,309.22 L183.47,309.14 L186.07,309.05 L188.68,308.95 L191.3,308.84 L193.94,308.72 L196.59,308.59 L199.24,308.46 L201.91,308.31 L204.59,308.16 L207.29,308 L210,307.83 L212.72,307.66 L215.44,307.47 L218.17,307.28 L220.91,307.08 L223.65,306.87 L226.39,306.65 L229.14,306.43 L231.89,306.2 L234.64,305.96 L237.39,305.72 L240.14,305.47 L242.9,305.21 L245.65,304.95 L248.4,304.69 L251.15,304.41 L253.89,304.14 L256.64,303.86 L259.37,303.57 L262.11,303.28 L264.84,302.99 L267.56,302.69 L270.27,302.39 L272.98,302.08 L275.68,301.77 L278.37,301.46 L281.05,301.15 L283.72,300.83 L286.38,300.51 L289.03,300.19 L291.67,299.87 L294.29,299.55 L296.9,299.22 L299.5,298.89 L302.08,298.56 L304.64,298.23 L307.19,297.9 L309.73,297.57 L312.24,297.24 L314.74,296.91 L317.22,296.57 L319.68,296.24 L322.12,295.91 L324.54,295.58 L326.93,295.25 L329.31,294.92 L331.67,294.59 L334,294.26 L336.3,293.93 L338.59,293.6 L340.85,293.28 L343.08,292.95 L345.29,292.63 L347.47,292.31 L349.63,292 L351.75,291.68 L353.85,291.37 L355.93,291.06 L357.97,290.75 L359.98,290.44 L361.96,290.14 L363.92,289.84 L365.84,289.54 L367.73,289.25 L369.58,288.96 L371.41,288.68 L373.2,288.39 L374.96,288.12 L376.68,287.84 L378.38,287.57 L380.03,287.31 L381.65,287.05 L383.24,286.79 L384.79,286.54 L386.3,286.29 L387.77,286.05 L389.21,285.81 L390.61,285.58 L391.98,285.35 L393.3,285.13 L394.59,284.92 L395.84,284.71 L397.05,284.5 L398.22,284.31 L399.34,284.11 L400.43,283.93 L401.48,283.75 L402.49,283.58 L403.46,283.41 L404.38,283.25 L405.27,283.1 L406.11,282.95 L406.91,282.81 L407.67,282.68 L408.39,282.56 L409.06,282.44 L409.69,282.33 L410.28,282.22 L410.82,282.13 L411.33,282.04 L411.79,281.96 L412.2,281.88 L412.57,281.82 L412.9,281.76 L413.19,281.71 L413.43,281.67 L413.63,281.63 L413.78,281.6 L413.89,281.58 L413.96,281.57 L413.98,281.57" stroke="#00e000"/>
<path d="M414.04,280.23 L414.02,280.23 L413.96,280.21 L413.85,280.18 L413.7,280.13 L413.51,280.08 L413.27,280.01 L412.99,279.93 L412.67,279.84 L412.3,279.74 L411.9,279.62 L411.45,279.5 L410.95,279.36 L410.42,279.21 L409.84,279.05 L409.22,278.88 L408.56,278.69 L407.86,278.5 L407.12,278.29 L406.33,278.08 L405.5,277.85 L404.63,277.61 L403.72,277.36 L402.77,277.1 L401.78,276.84 L400.75,276.56 L399.68,276.27 L398.57,275.97 L397.42,275.67 L396.23,275.35 L395.01,275.03 L393.74,274.7 L392.43,274.36 L391.09,274.01 L389.71,273.65 L388.29,273.29 L386.84,272.91 L385.34,272.54 L383.81,272.15 L382.25,271.76 L380.65,271.36 L379.01,270.95 L377.34,270.54 L375.64,270.13 L373.9,269.71 L372.12,269.28 L370.32,268.85 L368.48,268.41 L366.6,267.97 L364.7,267.53 L362.76,267.08 L360.8,266.62 L358.8,266.17 L356.77,265.71 L354.72,265.25 L352.63,264.79 L350.51,264.32 L348.37,263.85 L346.2,263.38 L344,262.91 L341.78,262.44 L339.53,261.97 L337.25,261.49 L334.95,261.02 L332.62,260.54 L330.27,260.07 L327.9,259.6 L325.51,259.13 L323.09,258.65 L320.65,258.18 L318.19,257.71 L315.71,257.25 L313.21,256.78 L310.69,256.32 L308.15,255.86 L305.6,255.4 L303.02,254.95 L300.43,254.5 L297.83,254.05 L295.21,253.61 L292.57,253.17 L289.93,252.74 L287.26,252.31 L284.59,251.89 L281.9,251.47 L279.2,251.06 L276.49,250.65 L273.77,250.25 L271.05,249.86 L268.31,249.47 L265.57,249.09 L262.81,248.72 L260.05,248.35 L257.29,247.99 L254.52,247.64 L251.75,247.3 L248.97,246.97 L246.19,246.64 L243.41,246.33 L240.62,246.02 L237.84,245.73 L235.05,245.44 L232.27,245.16 L229.48,244.9 L226.7,244.64 L223.92,244.4 L221.14,244.17 L218.37,243.94 L215.61,243.73 L212.84,243.53 L210.09,243.35 L207.34,243.17 L204.6,243.01 L201.84,242.86 L199.09,242.73 L196.34,242.61 L193.61,242.51 L190.88,242.42 L188.17,242.35 L185.47,242.3 L182.78,242.26 L180.11,242.24 L177.45,242.24 L174.81,242.25 L172.18,242.28 L169.57,242.33 L166.98,242.4 L164.41,242.48 L161.85,242.57 L159.32,242.69 L156.81,242.82 L154.31,242.97 L151.84,243.13 L149.4,243.32 L146.97,243.51 L144.57,243.73 L142.2,243.96 L139.85,244.21 L137.52,244.47 L135.23,244.75 L132.96,245.05 L130.71,245.36 L128.5,245.69 L126.32,246.03 L124.16,246.39 L122.04,246.76 L119.94,247.15 L117.88,247.55 L115.85,247.96 L113.85,248.39 L111.89,248.84 L109.95,249.29 L108.06,249.76 L106.19,250.25 L104.36,250.74 L102.57,251.25 L100.82,251.77 L99.1,252.31 L97.41,252.85 L95.77,253.4 L94.16,253.97 L92.59,254.54 L91.06,255.13 L89.56,255.72 L88.11,256.33 L86.69,256.94 L85.32,257.57 L83.99,258.2 L82.69,258.83 L81.44,259.48 L80.23,260.13 L79.06,260.79 L77.93,261.46 L76.84,262.13 L75.8,262.81 L74.8,263.5 L73.84,264.19 L72.92,264.88 L72.05,265.58 L71.22,266.29 L70.43,266.99 L69.69,267.71 L68.99,268.42 L68.33,269.14 L67.72,269.86 L67.15,270.59 L66.63,271.31 L66.15,272.04 L65.71,272.77 L65.32,273.5 L64.97,274.24 L64.67,274.97 L64.41,275.71 L64.2,276.45 L64.03,277.19 L63.9,277.93 L63.82,278.67 L63.78,279.41 L63.79,280.16 L63.84,280.9 L63.94,281.64 L64.07,282.37 L64.25,283.09 L64.48,283.8 L64.74,284.5 L65.05,285.19 L65.41,285.87 L65.8,286.54 L66.24,287.21 L66.72,287.86 L67.24,288.5 L67.8,289.13 L68.4,289.75 L69.05,290.37 L69.73,290.97 L70.46,291.56 L71.23,292.14 L72.03,292.71 L72.88,293.27 L73.77,293.82 L74.7,294.35 L75.67,294.88 L76.67,295.4 L77.72,295.9 L78.8,296.39 L79.92,296.88 L81.08,297.35 L82.28,297.8 L83.51,298.25 L84.78,298.69 L86.09,299.11 L87.43,299.52 L88.81,299.92 L90.23,300.31 L91.68,300.69 L93.16,301.05 L94.68,301.4 L96.23,301.74 L97.82,302.07 L99.44,302.39 L101.09,302.69 L102.78,302.98 L104.49,303.26 L106.24,303.53 L108.02,303.78 L109.83,304.02 L111.67,304.25 L113.54,304.47 L115.44,304.67 L117.37,304.87 L119.32,305.05 L121.31,305.21 L123.32,305.37 L125.36,305.52 L127.43,305.65 L129.52,305.77 L131.64,305.88 L133.78,305.98 L135.95,306.06 L138.14,306.14 L140.35,306.2 L142.59,306.26 L144.85,306.3 L147.14,306.33 L149.44,306.35 L151.77,306.36 L154.12,306.37 L156.48,306.36 L158.87,306.34 L161.28,306.31 L163.7,306.27 L166.14,306.23 L168.61,306.17 L171.08,306.11 L173.58,306.04 L176.09,305.96 L178.61,305.87 L181.15,305.77 L183.7,305.67 L186.27,305.56 L188.85,305.45 L191.45,305.32 L194.05,305.19 L196.67,305.06 L199.29,304.92 L201.93,304.77 L204.59,304.62 L207.28,304.46 L209.97,304.29 L212.68,304.12 L215.39,303.94 L218.1,303.75 L220.83,303.55 L223.55,303.35 L226.29,303.15 L229.02,302.93 L231.76,302.72 L234.5,302.49 L237.24,302.26 L239.98,302.03 L242.73,301.79 L245.47,301.55 L248.21,301.3 L250.95,301.05 L253.68,300.79 L256.42,300.53 L259.15,300.27 L261.87,300.01 L264.59,299.74 L267.31,299.47 L270.02,299.2 L272.72,298.92 L275.41,298.64 L278.09,298.36 L280.77,298.08 L283.43,297.8 L286.09,297.51 L288.73,297.23 L291.37,296.94 L293.99,296.66 L296.59,296.37 L299.18,296.08 L301.76,295.79 L304.33,295.5 L306.87,295.21 L309.4,294.92 L311.92,294.63 L314.42,294.35 L316.89,294.06 L319.35,293.77 L321.79,293.48 L324.21,293.2 L326.61,292.91 L328.99,292.63 L331.35,292.35 L333.68,292.07 L335.99,291.79 L338.28,291.51 L340.54,291.24 L342.77,290.96 L344.99,290.69 L347.17,290.42 L349.33,290.15 L351.46,289.89 L353.57,289.62 L355.64,289.36 L357.69,289.11 L359.71,288.85 L361.7,288.6 L363.65,288.35 L365.58,288.1 L367.48,287.86 L369.34,287.62 L371.17,287.38 L372.97,287.15 L374.73,286.92 L376.47,286.69 L378.16,286.47 L379.83,286.25 L381.45,286.04 L383.04,285.82 L384.6,285.62 L386.12,285.42 L387.6,285.22 L389.05,285.02 L390.46,284.83 L391.83,284.65 L393.16,284.47 L394.45,284.29 L395.71,284.12 L396.92,283.95 L398.1,283.79 L399.23,283.64 L400.33,283.48 L401.38,283.34 L402.4,283.2 L403.37,283.06 L404.3,282.93 L405.19,282.81 L406.04,282.69 L406.84,282.58 L407.61,282.47 L408.33,282.37 L409,282.27 L409.64,282.18 L410.23,282.1 L410.78,282.02 L411.29,281.95 L411.75,281.88 L412.17,281.82 L412.54,281.77 L412.87,281.72 L413.16,281.68 L413.4,281.65 L413.6,281.62 L413.76,281.6 L413.87,281.58 L413.93,281.57 L413.96,281.57" stroke="#ff0000"/>
<path d="M414.07,280.23 L414.04,280.23 L413.98,280.21 L413.87,280.17 L413.72,280.12 L413.53,280.06 L413.3,279.99 L413.02,279.9 L412.7,279.8 L412.34,279.68 L411.93,279.55 L411.49,279.41 L411,279.26 L410.47,279.09 L409.89,278.91 L409.28,278.72 L408.62,278.51 L407.92,278.29 L407.18,278.06 L406.4,277.82 L405.58,277.57 L404.72,277.3 L403.81,277.03 L402.87,276.74 L401.88,276.44 L400.86,276.13 L399.8,275.81 L398.69,275.47 L397.55,275.13 L396.37,274.78 L395.14,274.42 L393.88,274.05 L392.58,273.67 L391.25,273.28 L389.87,272.88 L388.46,272.47 L387.01,272.06 L385.53,271.64 L384.01,271.21 L382.45,270.77 L380.85,270.33 L379.22,269.88 L377.56,269.42 L375.86,268.95 L374.13,268.49 L372.36,268.01 L370.56,267.53 L368.73,267.04 L366.86,266.55 L364.96,266.06 L363.03,265.56 L361.07,265.06 L359.08,264.55 L357.05,264.05 L355,263.53 L352.92,263.02 L350.81,262.5 L348.67,261.99 L346.5,261.47 L344.31,260.95 L342.09,260.42 L339.84,259.9 L337.56,259.38 L335.27,258.86 L332.94,258.33 L330.59,257.81 L328.22,257.29 L325.83,256.77 L323.41,256.25 L320.97,255.74 L318.51,255.22 L316.03,254.71 L313.53,254.2 L311.01,253.7 L308.47,253.19 L305.91,252.69 L303.34,252.2 L300.75,251.71 L298.14,251.22 L295.52,250.74 L292.88,250.26 L290.22,249.79 L287.56,249.33 L284.88,248.87 L282.18,248.42 L279.48,247.97 L276.76,247.53 L274.04,247.1 L271.3,246.68 L268.56,246.26 L265.81,245.85 L263.05,245.45 L260.28,245.06 L257.51,244.68 L254.73,244.31 L251.95,243.94 L249.16,243.59 L246.37,243.24 L243.58,242.91 L240.78,242.59 L237.99,242.28 L235.19,241.98 L232.39,241.69 L229.6,241.41 L226.8,241.14 L224.01,240.89 L221.22,240.65 L218.44,240.42 L215.66,240.2 L212.89,240 L210.12,239.81 L207.36,239.63 L204.6,239.47 L201.82,239.32 L199.04,239.19 L196.26,239.08 L193.49,238.98 L190.74,238.91 L188,238.85 L185.27,238.82 L182.55,238.8 L179.85,238.8 L177.16,238.82 L174.49,238.87 L171.83,238.92 L169.19,239 L166.57,239.1 L163.97,239.22 L161.39,239.35 L158.83,239.51 L156.29,239.68 L153.77,239.87 L151.28,240.09 L148.81,240.31 L146.36,240.56 L143.93,240.83 L141.54,241.11 L139.16,241.41 L136.82,241.73 L134.5,242.07 L132.21,242.42 L129.95,242.79 L127.72,243.18 L125.52,243.58 L123.35,244 L121.21,244.44 L119.1,244.89 L117.03,245.35 L114.99,245.83 L112.98,246.33 L111,246.84 L109.06,247.36 L107.16,247.89 L105.29,248.44 L103.46,249.01 L101.66,249.58 L99.91,250.16 L98.18,250.76 L96.5,251.37 L94.86,251.99 L93.25,252.62 L91.69,253.25 L90.16,253.9 L88.67,254.56 L87.23,255.22 L85.82,255.9 L84.46,256.58 L83.14,257.27 L81.86,257.96 L80.62,258.66 L79.42,259.37 L78.27,260.08 L77.15,260.8 L76.09,261.52 L75.06,262.25 L74.08,262.98 L73.14,263.72 L72.25,264.45 L71.4,265.19 L70.59,265.94 L69.83,266.68 L69.11,267.43 L68.44,268.18 L67.81,268.93 L67.22,269.68 L66.69,270.43 L66.19,271.18 L65.74,271.93 L65.34,272.69 L64.98,273.44 L64.66,274.19 L64.39,274.94 L64.17,275.69 L63.98,276.44 L63.85,277.18 L63.76,277.93 L63.71,278.68 L63.71,279.42 L63.75,280.16 L63.84,280.9 L63.97,281.63 L64.14,282.36 L64.36,283.07 L64.62,283.76 L64.92,284.45 L65.27,285.13 L65.65,285.79 L66.08,286.44 L66.55,287.08 L67.06,287.71 L67.61,288.32 L68.2,288.93 L68.84,289.52 L69.51,290.1 L70.23,290.66 L70.98,291.22 L71.78,291.76 L72.61,292.29 L73.49,292.81 L74.4,293.32 L75.35,293.81 L76.34,294.29 L77.37,294.76 L78.43,295.22 L79.54,295.66 L80.68,296.09 L81.86,296.51 L83.07,296.92 L84.32,297.31 L85.61,297.69 L86.93,298.06 L88.28,298.41 L89.67,298.76 L91.1,299.08 L92.56,299.4 L94.05,299.71 L95.58,300 L97.13,300.28 L98.73,300.54 L100.35,300.8 L102,301.04 L103.69,301.27 L105.4,301.48 L107.15,301.69 L108.93,301.88 L110.73,302.06 L112.57,302.23 L114.43,302.38 L116.32,302.53 L118.24,302.66 L120.19,302.78 L122.16,302.89 L124.16,302.99 L126.19,303.07 L128.24,303.15 L130.31,303.21 L132.42,303.27 L134.54,303.31 L136.69,303.35 L138.86,303.37 L141.06,303.38 L143.28,303.38 L145.52,303.38 L147.78,303.36 L150.06,303.34 L152.36,303.31 L154.68,303.26 L157.02,303.21 L159.39,303.16 L161.77,303.09 L164.16,303.02 L166.58,302.94 L169.01,302.85 L171.46,302.76 L173.92,302.66 L176.41,302.55 L178.9,302.44 L181.41,302.32 L183.94,302.2 L186.47,302.07 L189.02,301.94 L191.59,301.81 L194.16,301.67 L196.75,301.52 L199.35,301.38 L201.95,301.23 L204.58,301.07 L207.26,300.92 L209.94,300.75 L212.63,300.58 L215.33,300.4 L218.04,300.22 L220.75,300.03 L223.46,299.84 L226.18,299.64 L228.91,299.44 L231.63,299.23 L234.36,299.02 L237.09,298.81 L239.82,298.59 L242.55,298.37 L245.29,298.14 L248.02,297.91 L250.75,297.68 L253.48,297.45 L256.2,297.21 L258.92,296.97 L261.64,296.73 L264.35,296.49 L267.06,296.25 L269.76,296 L272.45,295.76 L275.14,295.51 L277.82,295.26 L280.49,295.01 L283.15,294.76 L285.8,294.51 L288.44,294.26 L291.06,294.01 L293.68,293.76 L296.28,293.51 L298.87,293.26 L301.45,293.01 L304.01,292.76 L306.55,292.52 L309.08,292.27 L311.6,292.02 L314.09,291.78 L316.57,291.54 L319.03,291.29 L321.47,291.05 L323.89,290.81 L326.29,290.58 L328.67,290.34 L331.03,290.11 L333.36,289.87 L335.68,289.64 L337.96,289.41 L340.23,289.19 L342.47,288.96 L344.68,288.74 L346.87,288.52 L349.04,288.3 L351.17,288.09 L353.28,287.88 L355.36,287.67 L357.41,287.46 L359.44,287.25 L361.43,287.05 L363.39,286.85 L365.33,286.65 L367.23,286.46 L369.1,286.27 L370.93,286.08 L372.74,285.9 L374.51,285.72 L376.25,285.54 L377.95,285.36 L379.62,285.19 L381.25,285.02 L382.85,284.85 L384.42,284.69 L385.94,284.53 L387.43,284.38 L388.88,284.23 L390.3,284.08 L391.68,283.94 L393.01,283.8 L394.31,283.66 L395.57,283.53 L396.8,283.4 L397.98,283.27 L399.12,283.15 L400.22,283.04 L401.28,282.92 L402.3,282.82 L403.28,282.71 L404.22,282.61 L405.11,282.52 L405.96,282.42 L406.77,282.34 L407.54,282.26 L408.27,282.18 L408.95,282.1 L409.59,282.04 L410.19,281.97 L410.74,281.91 L411.25,281.86 L411.71,281.81 L412.13,281.76 L412.51,281.72 L412.84,281.68 L413.13,281.65 L413.38,281.63 L413.58,281.61 L413.73,281.59 L413.85,281.58 L413.91,281.57 L413.93,281.57" stroke="#0000c8"/>
<path d="M414.09,280.24 L414.07,280.23 L414,280.21 L413.9,280.17 L413.75,280.12 L413.56,280.05 L413.32,279.96 L413.05,279.87 L412.73,279.75 L412.37,279.63 L411.97,279.49 L411.53,279.33 L411.04,279.16 L410.51,278.97 L409.94,278.77 L409.33,278.56 L408.68,278.33 L407.98,278.09 L407.25,277.84 L406.47,277.57 L405.66,277.29 L404.8,277 L403.9,276.69 L402.96,276.37 L401.98,276.04 L400.96,275.7 L399.91,275.34 L398.81,274.98 L397.67,274.6 L396.5,274.21 L395.28,273.81 L394.03,273.4 L392.73,272.98 L391.4,272.55 L390.04,272.12 L388.63,271.67 L387.19,271.21 L385.71,270.75 L384.2,270.27 L382.64,269.79 L381.06,269.3 L379.43,268.8 L377.78,268.3 L376.08,267.79 L374.36,267.27 L372.6,266.75 L370.8,266.22 L368.97,265.69 L367.11,265.15 L365.22,264.6 L363.3,264.05 L361.34,263.5 L359.35,262.95 L357.33,262.39 L355.29,261.83 L353.21,261.26 L351.1,260.7 L348.97,260.13 L346.8,259.56 L344.61,258.99 L342.39,258.42 L340.15,257.85 L337.88,257.27 L335.58,256.7 L333.26,256.13 L330.91,255.56 L328.54,254.99 L326.15,254.42 L323.73,253.86 L321.29,253.3 L318.83,252.74 L316.35,252.18 L313.85,251.63 L311.33,251.08 L308.79,250.53 L306.23,249.99 L303.65,249.45 L301.06,248.92 L298.45,248.39 L295.82,247.87 L293.18,247.36 L290.52,246.85 L287.85,246.35 L285.16,245.85 L282.47,245.37 L279.76,244.89 L277.04,244.42 L274.3,243.95 L271.56,243.5 L268.81,243.05 L266.05,242.62 L263.28,242.19 L260.51,241.77 L257.73,241.37 L254.94,240.97 L252.15,240.58 L249.35,240.21 L246.55,239.85 L243.75,239.49 L240.94,239.15 L238.13,238.83 L235.33,238.51 L232.52,238.21 L229.71,237.92 L226.91,237.64 L224.1,237.38 L221.3,237.13 L218.51,236.89 L215.72,236.67 L212.93,236.46 L210.15,236.27 L207.37,236.09 L204.61,235.92 L201.8,235.77 L198.98,235.65 L196.18,235.54 L193.38,235.46 L190.6,235.4 L187.83,235.36 L185.07,235.34 L182.32,235.34 L179.59,235.37 L176.87,235.41 L174.17,235.48 L171.48,235.57 L168.82,235.68 L166.17,235.81 L163.54,235.97 L160.93,236.14 L158.34,236.34 L155.78,236.55 L153.23,236.79 L150.71,237.05 L148.22,237.32 L145.74,237.62 L143.3,237.94 L140.88,238.28 L138.48,238.63 L136.12,239.01 L133.78,239.4 L131.47,239.81 L129.19,240.24 L126.95,240.69 L124.73,241.16 L122.54,241.64 L120.39,242.14 L118.27,242.65 L116.18,243.18 L114.13,243.73 L112.11,244.29 L110.13,244.86 L108.18,245.45 L106.27,246.05 L104.4,246.67 L102.56,247.3 L100.76,247.94 L99,248.59 L97.28,249.25 L95.6,249.92 L93.96,250.61 L92.36,251.3 L90.8,252 L89.28,252.71 L87.8,253.43 L86.36,254.15 L84.96,254.89 L83.61,255.63 L82.3,256.37 L81.03,257.12 L79.81,257.88 L78.62,258.64 L77.49,259.4 L76.39,260.17 L75.34,260.94 L74.34,261.72 L73.37,262.49 L72.46,263.27 L71.59,264.05 L70.76,264.83 L69.98,265.61 L69.24,266.4 L68.55,267.18 L67.9,267.96 L67.3,268.74 L66.74,269.52 L66.23,270.3 L65.76,271.07 L65.34,271.85 L64.97,272.62 L64.64,273.39 L64.36,274.15 L64.12,274.92 L63.93,275.68 L63.78,276.43 L63.68,277.19 L63.62,277.94 L63.61,278.68 L63.64,279.43 L63.72,280.17 L63.84,280.9 L64.01,281.63 L64.21,282.34 L64.47,283.04 L64.76,283.72 L65.09,284.39 L65.47,285.05 L65.89,285.69 L66.35,286.32 L66.85,286.94 L67.39,287.54 L67.98,288.13 L68.6,288.7 L69.26,289.26 L69.97,289.81 L70.71,290.34 L71.49,290.86 L72.32,291.36 L73.18,291.85 L74.08,292.33 L75.01,292.79 L75.99,293.24 L77,293.67 L78.05,294.1 L79.14,294.5 L80.26,294.9 L81.42,295.28 L82.62,295.64 L83.85,295.99 L85.12,296.33 L86.42,296.66 L87.75,296.97 L89.12,297.27 L90.52,297.55 L91.96,297.82 L93.43,298.08 L94.93,298.33 L96.46,298.56 L98.02,298.78 L99.62,298.98 L101.25,299.17 L102.9,299.35 L104.59,299.52 L106.3,299.68 L108.05,299.82 L109.82,299.95 L111.62,300.07 L113.45,300.18 L115.31,300.27 L117.2,300.36 L119.11,300.43 L121.04,300.49 L123.01,300.54 L124.99,300.58 L127.01,300.61 L129.04,300.63 L131.11,300.64 L133.19,300.64 L135.3,300.63 L137.43,300.61 L139.58,300.58 L141.76,300.54 L143.96,300.5 L146.17,300.44 L148.41,300.38 L150.67,300.31 L152.95,300.24 L155.25,300.15 L157.56,300.06 L159.9,299.97 L162.25,299.86 L164.62,299.76 L167.01,299.64 L169.42,299.53 L171.84,299.4 L174.27,299.27 L176.72,299.14 L179.19,299.01 L181.67,298.87 L184.17,298.73 L186.67,298.58 L189.2,298.44 L191.73,298.29 L194.27,298.14 L196.83,297.99 L199.4,297.84 L201.98,297.68 L204.58,297.53 L207.24,297.37 L209.91,297.21 L212.59,297.04 L215.28,296.87 L217.97,296.69 L220.67,296.51 L223.37,296.33 L226.08,296.14 L228.79,295.95 L231.5,295.75 L234.22,295.55 L236.94,295.35 L239.66,295.15 L242.38,294.94 L245.11,294.74 L247.83,294.53 L250.55,294.31 L253.27,294.1 L255.98,293.89 L258.69,293.67 L261.4,293.46 L264.11,293.24 L266.81,293.02 L269.5,292.8 L272.19,292.59 L274.87,292.37 L277.54,292.15 L280.2,291.94 L282.86,291.72 L285.5,291.5 L288.14,291.29 L290.76,291.08 L293.37,290.86 L295.97,290.65 L298.56,290.44 L301.13,290.23 L303.69,290.02 L306.24,289.82 L308.76,289.61 L311.28,289.41 L313.77,289.21 L316.25,289.01 L318.71,288.81 L321.15,288.62 L323.57,288.42 L325.97,288.23 L328.35,288.04 L330.71,287.86 L333.05,287.67 L335.36,287.49 L337.65,287.31 L339.92,287.13 L342.17,286.96 L344.38,286.79 L346.58,286.62 L348.74,286.45 L350.88,286.28 L353,286.12 L355.08,285.96 L357.14,285.8 L359.17,285.65 L361.17,285.5 L363.13,285.35 L365.07,285.2 L366.98,285.06 L368.86,284.91 L370.7,284.78 L372.51,284.64 L374.29,284.51 L376.03,284.37 L377.74,284.25 L379.42,284.12 L381.06,284 L382.66,283.88 L384.23,283.76 L385.77,283.65 L387.26,283.54 L388.72,283.43 L390.14,283.32 L391.53,283.22 L392.87,283.12 L394.18,283.02 L395.44,282.93 L396.67,282.84 L397.86,282.75 L399.01,282.67 L400.12,282.59 L401.18,282.51 L402.21,282.43 L403.19,282.36 L404.13,282.29 L405.03,282.22 L405.89,282.16 L406.71,282.1 L407.48,282.04 L408.21,281.99 L408.9,281.94 L409.54,281.89 L410.14,281.84 L410.7,281.8 L411.21,281.76 L411.68,281.73 L412.1,281.7 L412.48,281.67 L412.82,281.65 L413.11,281.62 L413.35,281.61 L413.55,281.59 L413.71,281.58 L413.82,281.57 L413.89,281.57 L413.91,281.56" stroke="#ff00ff"/>
</g>
<rect x="433.5" y="53.5" width="109.8" height="71" fill="#fff" class="bx"/>
<line x1="437" y1="63.3" x2="469.6" y2="63.3" stroke="#ff0000" stroke-width="2.4"/>
<text x="471.2" y="68.6" class="lg">NACA 0012</text>
<line x1="437" y1="81" x2="469.6" y2="81" stroke="#00e000" stroke-width="2.4"/>
<text x="471.2" y="86.1" class="lg">NACA 0015</text>
<line x1="437" y1="98" x2="469.6" y2="98" stroke="#ff00ff" stroke-width="2.4"/>
<text x="471.2" y="103.3" class="lg">NACA 0018</text>
<line x1="437" y1="115.8" x2="469.6" y2="115.8" stroke="#0000c8" stroke-width="2.4"/>
<text x="471.2" y="121.2" class="lg">NACA 0021</text>
<rect x="434.5" y="236.5" width="109.5" height="88.5" fill="#fff" class="bx"/>
<line x1="438.2" y1="246.4" x2="470.8" y2="246.4" stroke="#000000" stroke-width="2.4"/>
<text x="472" y="251.4" class="lg">NACA 0018</text>
<line x1="438.2" y1="263.6" x2="470.8" y2="263.6" stroke="#00e000" stroke-width="2.4"/>
<text x="472" y="269.2" class="lg">NACA 1418</text>
<line x1="438.2" y1="281.7" x2="470.8" y2="281.7" stroke="#ff0000" stroke-width="2.4"/>
<text x="472" y="286.25" class="lg">NACA 2418</text>
<line x1="438.2" y1="298.5" x2="470.8" y2="298.5" stroke="#0000c8" stroke-width="2.4"/>
<text x="472" y="304.25" class="lg">NACA 3418</text>
<line x1="438.2" y1="316.2" x2="470.8" y2="316.2" stroke="#ff00ff" stroke-width="2.4"/>
<text x="472" y="321.75" class="lg">NACA 4418</text>
</svg>
</body></html>
